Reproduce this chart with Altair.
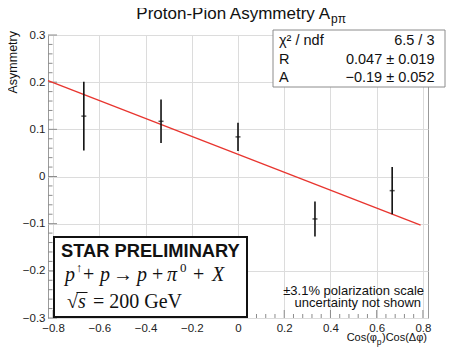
import altair as alt
import pandas as pd
import numpy as np

# ---- data ----
x_vals = [-0.667, -0.333, 0.0, 0.333, 0.667]
y_vals = [0.128, 0.117, 0.084, -0.090, -0.030]
y_errs = [0.073, 0.046, 0.030, 0.037, 0.050]

fit_R = 0.047
fit_A = -0.19
fit_range = [-0.822, 0.79]

x_label_vals = [-0.8, -0.6, -0.4, -0.2, 0.0, 0.2, 0.4, 0.6, 0.8]
y_label_vals = [-0.3, -0.2, -0.1, 0.0, 0.1, 0.2, 0.3]

stats_names = ["χ² / ndf", "R", "A"]
stats_values = ["6.5 / 3", "0.047 ± 0.019", "−0.19 ± 0.052"]

title_main = "Proton-Pion Asymmetry A"
title_sub = "pπ"
y_title = "Asymmetry"
x_title_parts = ["Cos(φ", "p", ")Cos(Δφ)"]
note_lines = ["±3.1% polarization scale", "uncertainty not shown"]
star_title = "STAR PRELIMINARY"
# reaction: (text, x, italic, size, raise)
reaction = [("p", 17, True, 20, 0), ("↑", 28, False, 12, -7), ("+", 35, False, 20, 0),
            ("p", 52, True, 20, 0), ("→", 65, False, 20, 0), ("p", 89, True, 20, 0),
            ("+", 104, False, 20, 0), ("π", 119, True, 20, 0), ("0", 132, False, 13, -7),
            ("+", 145, False, 20, 0), ("X", 164, True, 20, 0)]
energy = [("√", 19, False), ("s", 30, True), ("= 200 GeV", 45, False)]

# ---- layout ----
W, H = 380, 283
FONT = "Liberation Sans"
SERIF = "Liberation Serif"

xs = alt.Scale(domain=[-0.822, 0.822], nice=False, zero=False)
ys = alt.Scale(domain=[-0.3, 0.3], nice=False, zero=False)

x_axis = alt.Axis(values=x_label_vals, labelExpr="datum.value == 0 ? '0' : format(datum.value, '.1f')",
                  labelFontSize=11.5, labelFont=FONT, labelColor="#222", ticks=False, domain=False,
                  grid=True, gridColor="#dcdcdc", gridWidth=1, labelPadding=4, title=None, labelFlush=False)
y_axis = alt.Axis(values=y_label_vals, labelExpr="datum.value == 0 ? '0' : format(datum.value, '.1f')",
                  labelFontSize=11.5, labelFont=FONT, labelColor="#222", ticks=False, domain=False,
                  grid=True, gridColor="#dcdcdc", gridWidth=1, labelPadding=3, title=None)

pts = pd.DataFrame({"x": x_vals, "y": y_vals, "err": y_errs})
pts["lo"] = pts["y"] - pts["err"]
pts["hi"] = pts["y"] + pts["err"]

fit_df = pd.DataFrame({"x": fit_range})
fit_df["y"] = fit_R + fit_A * fit_df["x"]

# axis tick decorations (inward ticks, ROOT style)
yt_all = np.round(np.arange(-0.3, 0.3001, 0.02), 2)
yt_major = pd.DataFrame({"t": [v for v in yt_all if abs(round(v * 10) - v * 10) < 1e-6]})
yt_minor = pd.DataFrame({"t": [v for v in yt_all if abs(round(v * 10) - v * 10) >= 1e-6]})
xt_all = np.round(np.arange(-0.8, 0.8001, 0.04), 2)
xt_major = pd.DataFrame({"t": [v for v in xt_all if abs(round(v * 5) - v * 5) < 1e-6]})
xt_minor = pd.DataFrame({"t": [v for v in xt_all if abs(round(v * 5) - v * 5) >= 1e-6]})

TICK_C = "#8c8c8c"

def yticks(df, length):
    return alt.Chart(df).mark_rule(color=TICK_C, strokeWidth=1).encode(
        y=alt.Y("t:Q", scale=ys, axis=y_axis), x=alt.value(0), x2=alt.value(length))

def xticks(df, length):
    return alt.Chart(df).mark_rule(color=TICK_C, strokeWidth=1).encode(
        x=alt.X("t:Q", scale=xs, axis=x_axis), y=alt.value(H), y2=alt.value(H - length))

fit_line = alt.Chart(fit_df).mark_line(color="#e8352f", strokeWidth=1.3).encode(
    x=alt.X("x:Q", scale=xs, axis=x_axis), y=alt.Y("y:Q", scale=ys, axis=y_axis))

err = alt.Chart(pts).mark_rule(color="#111", strokeWidth=1.6).encode(
    x=alt.X("x:Q", scale=xs, axis=x_axis), y=alt.Y("lo:Q", scale=ys, axis=y_axis), y2="hi:Q")

ctr = alt.Chart(pts).mark_tick(orient="horizontal", size=5, thickness=1.5, color="#111").encode(
    x=alt.X("x:Q", scale=xs, axis=x_axis), y=alt.Y("y:Q", scale=ys, axis=y_axis))

one = pd.DataFrame({"k": [0]})

def txt(text, x, y, size, align="left", baseline="middle", font=FONT, weight="normal",
        style="normal", angle=0, color="#111"):
    return alt.Chart(one).mark_text(text=text, align=align, baseline=baseline, font=font,
                                    fontSize=size, fontWeight=weight, fontStyle=style,
                                    angle=angle, color=color).encode(x=alt.value(x), y=alt.value(y))

def box(x1, y1, x2, y2, stroke, sw):
    return alt.Chart(one).mark_rect(fill="white", stroke=stroke, strokeWidth=sw).encode(
        x=alt.value(x1), x2=alt.value(x2), y=alt.value(y1), y2=alt.value(y2))

layers = [
    yticks(yt_major, 9), yticks(yt_minor, 4.5), xticks(xt_major, 8), xticks(xt_minor, 4),
    fit_line, err, ctr,
    # title
    txt(title_main, 282, -16, 17, align="right", baseline="alphabetic"),
    txt(title_sub, 283, -12, 12, align="left", baseline="alphabetic"),
    # y title
    txt(y_title, -35, -4, 12.5, align="right", angle=270),
    # x title
    txt(x_title_parts[2], 379, 302.5, 11, align="right"),
    txt(x_title_parts[1], 333.5, 307, 8.5, align="right"),
    txt(x_title_parts[0], 329, 302.5, 11, align="right"),
    # stats box
    box(225, -5, 397, 52, "#8c8c8c", 1),
]
row_y = [5.7, 25, 43.3]
for nm, val, yy in zip(stats_names, stats_values, row_y):
    layers.append(txt(nm, 231, yy, 14.5))
    layers.append(txt(val, 386.5, yy, 14.5, align="right"))

layers += [
    txt(note_lines[0], 376, 255.7, 13, align="right"),
    txt(note_lines[1], 373, 268, 13, align="right"),
    box(6, 202, 199, 282, "#111", 2),
    txt(star_title, 13, 216.7, 18.3, weight="bold"),
]
for t, xx, it, sz, rs in reaction:
    layers.append(txt(t, xx, 240 + rs, sz, font=SERIF, style="italic" if it else "normal"))
for t, xx, it in energy:
    layers.append(txt(t, xx, 266.7, 20, font=SERIF, style="italic" if it else "normal"))
layers.append(alt.Chart(one).mark_rule(color="#111", strokeWidth=1).encode(
    x=alt.value(28.5), x2=alt.value(39.5), y=alt.value(257.5)))

chart = alt.layer(*layers).properties(
    width=W, height=H,
    autosize=alt.AutoSizeParams(type="none"),
    padding={"left": 40, "top": 27, "right": 38, "bottom": 29},
).configure_view(stroke="#9a9a9a", strokeWidth=1)

chart.save("out.html", embed_options={"renderer": "svg", "actions": False})
